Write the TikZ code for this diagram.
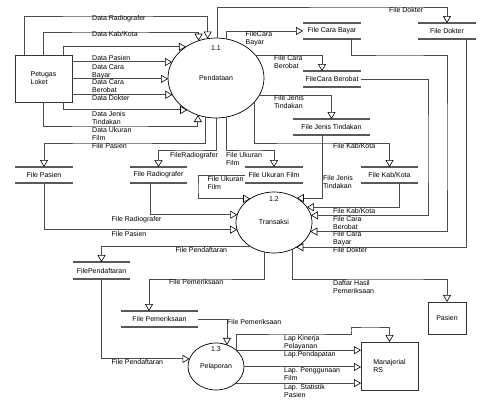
\documentclass[tikz,border=0pt]{standalone}
\usepackage{fontspec}
\setmainfont{Liberation Sans}
\usetikzlibrary{arrows.meta,shapes.geometric}
\begin{document}
\begin{tikzpicture}[x=1pt,y=-1pt,
  txt/.style={font=\fontsize{7}{8}\selectfont, inner sep=0pt},
  lbl/.style={txt, anchor=north west, align=left},
  proc/.style={draw=black, line width=0.7pt, ellipse, inner sep=0pt, outer sep=0pt},
  ent/.style={draw=black!80, line width=1pt, rectangle, inner sep=0pt, outer sep=0pt, txt, align=left},
  storeline/.style={draw=black!65, line width=1.1pt},
  store/.style={txt, minimum height=16pt, outer sep=0pt, append after command={(\tikzlastnode.north west) edge[storeline] (\tikzlastnode.north east) (\tikzlastnode.south west) edge[storeline] (\tikzlastnode.south east)}},
  flow/.style={draw=black!70, line width=1pt, -{Triangle[length=7pt, width=8pt, line width=0.6pt, color=black, fill=white]}},
]
\useasboundingbox[fill=white] (0,0) rectangle (497,413);
% processes
\node[proc, minimum width=96pt, minimum height=80pt] (p11) at (216,78) {};
\node[txt] (n11) at (216,48) {1.1};
\node[txt] (t11) at (216,78) {Pendataan};
\node[proc, minimum width=76pt, minimum height=61pt] (p12) at (274,222.5) {};
\node[txt] (n12) at (274,199) {1.2};
\node[txt] (t12) at (274,222) {Transaksi};
\node[proc, minimum width=56pt, minimum height=47pt] (p13) at (216,366.5) {};
\node[txt] (n13) at (216,349) {1.3};
\node[txt] (t13) at (216,367) {Pelaporan};
% entities
\node[ent, minimum width=57pt, minimum height=47pt] (lok) at (43.5,78.5) {Petugas\\Loket};
\node[ent, minimum width=57pt, minimum height=48pt] (mrs) at (389.5,366) {Manajerial\\RS};
\node[ent, minimum width=38pt, minimum height=32pt, align=center] (pas) at (447,318) {Pasien};
% stores
\node[store, minimum width=58pt] (sCB) at (332,31) {File Cara Bayar};
\node[store, minimum width=58pt] (sDok) at (447,31) {File Dokter};
\node[store, minimum width=58pt] (sCBr) at (332,79) {FileCara Berobat};
\node[store, minimum width=77pt] (sJT) at (331.5,127) {File Jenis Tindakan};
\node[store, minimum width=58pt] (sPas) at (44,175) {File Pasien};
\node[store, minimum width=57pt] (sRad) at (158.5,175) {File Radiografer};
\node[store, minimum width=58pt] (sUF) at (274,175) {File Ukuran Film};
\node[store, minimum width=57pt] (sKK) at (389.5,175) {File Kab/Kota};
\node[store, minimum width=57pt, minimum height=17pt] (sPend) at (101.5,270.5) {FilePendaftaran};
\node[store, minimum width=77pt] (sPem) at (159.5,319) {File Pemeriksaan};
% Loket -> 1.1
\draw[flow] ([xshift=9pt]lok.north west) |- (100,16) -| (p11.102.9);
\draw[flow] (lok.north) |- (100,32) -| (p11.115.9);
\draw[flow] ([xshift=-9pt]lok.north east) |- (p11.134.3);
\draw[flow] (lok.east |- p11.160) -- (p11.160);
\draw[flow] (lok.east |- p11.181.2) -- (p11.181.2);
\draw[flow] (lok.east |- p11.201.4) -- (p11.201.4);
\draw[flow] ([xshift=-9pt]lok.south east) |- (p11.228);
\draw[flow] (lok.south) |- (100,126) -| (p11.244.1);
% 1.1 -> stores
\draw[flow] (p11.88.6) |- (400,7) -| (sDok.north);
\draw[flow] (p11.75.65) |- (sCB.west);
\draw[flow] (p11.30.3) -| ([xshift=-10pt]sCBr.north);
\draw[flow] (p11.338.6) -| (sJT.north);
\draw[flow] (p11.329.1) |- (300,143) -| (sKK.north);
\draw[flow] (p11.285.8) |- (250,150) -| (sUF.north);
\draw[flow] (p11.271.4) |- (190,150) -| (sRad.north);
\draw[flow] (p11.255.7) |- (100,143) -| (sPas.north);
% stores -> 1.2
\draw[flow] (sUF.west) -| (198,190) |- (p12.135.8);
\draw[flow] ([xshift=20pt]sRad.south west) |- (p12.168.5);
\draw[flow] (sPas.south) |- (p12.191.5);
\draw[flow] ([xshift=-9.5pt]sJT.south) |- (p12.47.3);
\draw[flow] ([xshift=9.5pt]sKK.south) |- (p12.25.4);
\draw[flow] (sCBr.east) -| (428,150) |- (p12.11.5);
\draw[flow] ([xshift=19pt]sCB.south) |- (400,55) -| (447,150) |- (p12.346.9);
\draw[flow] ([xshift=19pt]sDok.south) |- (p12.312.7);
% 1.2 outputs
\draw[flow] (p12.227.3) -| (sPend.north);
\draw[flow] (p12.253.1) |- (200,279) -| ([xshift=-10.5pt]sPem.north);
\draw[flow] (p12.305.7) |- (400,279) -| (pas.north);
% 1.3
\draw[flow] (sPend.south) |- (p13.164.2);
\draw[flow] (sPem.east) -| (p13.63);
\draw[flow] (p13.39.4) |- (300,334) -| (351,330) |- (370,327) -| (mrs.north);
\draw[flow] (p13.39.7) -- (p13.39.7 -| mrs.west);
\draw[flow] (p13.359) -- (p13.359 -| mrs.west);
\draw[flow] (p13.320.3) -- (p13.320.3 -| mrs.west);
% labels
\node[lbl] (l1) at (92,15.7) {Data Radiografer};
\node[lbl] (l2) at (92,31.7) {Data Kab/Kota};
\node[lbl] (l3) at (92,55.7) {Data Pasien};
\node[lbl] (l4) at (92,64) {Data Cara\\Bayar};
\node[lbl] (l5) at (92,79.7) {Data Cara\\Berobat};
\node[lbl] (l6) at (92,95.7) {Data Dokter};
\node[lbl] (l7) at (92,111.7) {Data Jenis\\Tindakan};
\node[lbl] (l8) at (92,127.5) {Data Ukuran\\Film};
\node[lbl] (l9) at (92,143.5) {File Pasien};
\node[lbl] (l10) at (389,7.5) {File Dokter};
\node[lbl] (l11) at (245.5,31.7) {FileCara\\Bayar};
\node[lbl] (l12) at (274,55.7) {File Cara\\Berobat};
\node[lbl] (l13) at (274,95.7) {File Jenis\\Tindakan};
\node[lbl] (l14) at (333,143.5) {File Kab/Kota};
\node[lbl] (l15) at (170,152.5) {FileRadiografer};
\node[lbl] (l16) at (226,152.5) {File Ukuran\\Film};
\node[lbl] (l17) at (207.5,176) {File Ukuran\\Film};
\node[lbl] (l18) at (323,175.5) {File Jenis\\Tindakan};
\node[lbl] (l19) at (111.5,216.5) {File Radiografer};
\node[lbl] (l20) at (111.5,231.7) {File Pasien};
\node[lbl] (l21) at (333,208.2) {File Kab/Kota};
\node[lbl] (l22) at (333,216.2) {File Cara\\Berobat};
\node[lbl] (l23) at (333,231.7) {File Cara\\Bayar};
\node[lbl] (l24) at (333,247.7) {File Dokter};
\node[lbl] (l25) at (175.5,247.4) {File Pendaftaran};
\node[lbl] (l26) at (169,279.5) {File Pemeriksaan};
\node[lbl] (l27) at (333,280.5) {Daftar Hasil\\Pemeriksaan};
\node[lbl] (l28) at (227,319.7) {File Pemeriksaan};
\node[lbl] (l29) at (111.5,359.7) {File Pendaftaran};
\node[lbl] (l30) at (284,335.7) {Lap Kinerja\\Pelayanan};
\node[lbl] (l31) at (284,351.7) {Lap.Pendapatan};
\node[lbl] (l32) at (284,367.4) {Lap. Penggunaan\\Film};
\node[lbl] (l33) at (284,384) {Lap. Statistik\\Pasien};
\end{tikzpicture}
\end{document}
